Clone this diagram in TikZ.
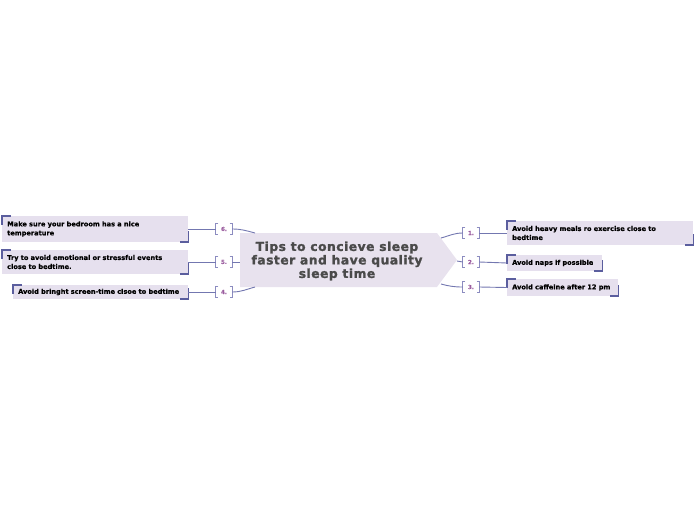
\documentclass[tikz,border=0pt]{standalone}
\usepackage{fontspec}
\setmainfont[BoldFeatures={FakeBold=0.5}]{DejaVu Sans}
\newfontfamily\titlefont[LetterSpace=4, BoldFeatures={FakeBold=1.6}]{DejaVu Sans}
\usetikzlibrary{positioning}
\definecolor{lav}{HTML}{E6E0EE}
\definecolor{hubfill}{HTML}{E8E2EE}
\definecolor{edgeblue}{HTML}{5B5E9E}
\definecolor{linkblue}{HTML}{7377B0}
\definecolor{tagblue}{HTML}{8C8CC0}
\definecolor{tagtext}{HTML}{9A5C9E}
\definecolor{titlegray}{HTML}{4A4A4A}
\newcommand{\corners}[1]{%
  \draw[corner] ([yshift=-9pt]#1.north west) -- (#1.north west) -- ([xshift=9pt]#1.north west);
  \draw[corner] ([yshift=11pt]#1.south east) -- (#1.south east) -- ([xshift=-8pt]#1.south east);}
\newcommand{\tagbrackets}[1]{%
  \draw[tagline] ([xshift=2.5pt]#1.north west) -- (#1.north west) -- (#1.south west) -- ([xshift=2.5pt]#1.south west);
  \draw[tagline] ([xshift=-2.5pt]#1.north east) -- (#1.north east) -- (#1.south east) -- ([xshift=-2.5pt]#1.south east);}
\begin{document}
\begin{tikzpicture}[x=1pt, y=-1pt,
  box/.style={fill=lav, anchor=west, align=left, inner xsep=5pt, inner ysep=0pt,
    font=\bfseries\fontsize{6.6}{9}\selectfont},
  corner/.style={edgeblue, line width=1.8pt},
  tag/.style={minimum width=16pt, minimum height=11pt, inner sep=0pt,
    font=\bfseries\fontsize{5.5}{7}\selectfont, text=tagtext},
  tagline/.style={tagblue, line width=0.7pt},
  link/.style={linkblue, line width=0.9pt}]
\useasboundingbox (0,0) rectangle (697,520);

% central shape
\fill[hubfill] (240,233) -- (437,233) -- (457,260) -- (437,287) -- (240,287) -- cycle;
\node[align=center, text=titlegray, font=\titlefont\bfseries\fontsize{12.3}{13.5}\selectfont] (hub) at (337,261)
  {Tips to concieve sleep\\faster and have quality\\sleep time};
\coordinate (h6) at (255,233);
\coordinate (h5) at (240,262);
\coordinate (h4) at (255,287);
\coordinate (h1) at (441,238);
\coordinate (h2) at (457,261);
\coordinate (h3) at (441,284);

% left side
\node[box, text width=176pt, minimum height=26pt] (b6) at (2,229) {Make sure your bedroom has a nice\\temperature};
\node[box, text width=176pt, minimum height=24pt] (b5) at (2,262) {Try to avoid emotional or stressful events\\close to bedtime.};
\node[box, text width=165pt, minimum height=14pt] (b4) at (13,292) {Avoid bringht screen-time clsoe to bedtime};
\node[tag] (t6) at (224,229) {6.};
\node[tag] (t5) at (224,262) {5.};
\node[tag] (t4) at (224,292) {4.};

% right side
\node[box, text width=176pt, minimum height=24pt] (b1) at (507,233) {Avoid heavy meals ro exercise close to\\bedtime};
\node[box, text width=85pt, minimum height=16pt] (b2) at (507,263) {Avoid naps if possible};
\node[box, text width=101pt, minimum height=17pt] (b3) at (507,287.5) {Avoid caffeine after 12 pm};
\node[tag] (t1) at (471,233) {1.};
\node[tag] (t2) at (471,262) {2.};
\node[tag] (t3) at (471,287) {3.};

\foreach \b in {b1,b2,b3,b4,b5,b6} {\corners{\b}}
\foreach \t in {t1,t2,t3,t4,t5,t6} {\tagbrackets{\t}}

\draw[link] (b6.east) -- (t6.west);
\draw[link] (b5.east) -- (t5.west);
\draw[link] (b4.east) -- (t4.west);
\draw[link] (t6.east) to[out=0,in=165] (h6);
\draw[link] (t5.east) -- (h5);
\draw[link] (t4.east) to[out=0,in=195] (h4);

\draw[link] (t1.east) -- (b1.west);
\draw[link] (t2.east) -- (b2.west);
\draw[link] (t3.east) -- (b3.west);
\draw[link] (t1.west) to[out=180,in=15] (h1);
\draw[link] (t2.west) -- (h2);
\draw[link] (t3.west) to[out=180,in=-15] (h3);

\end{tikzpicture}
\end{document}
